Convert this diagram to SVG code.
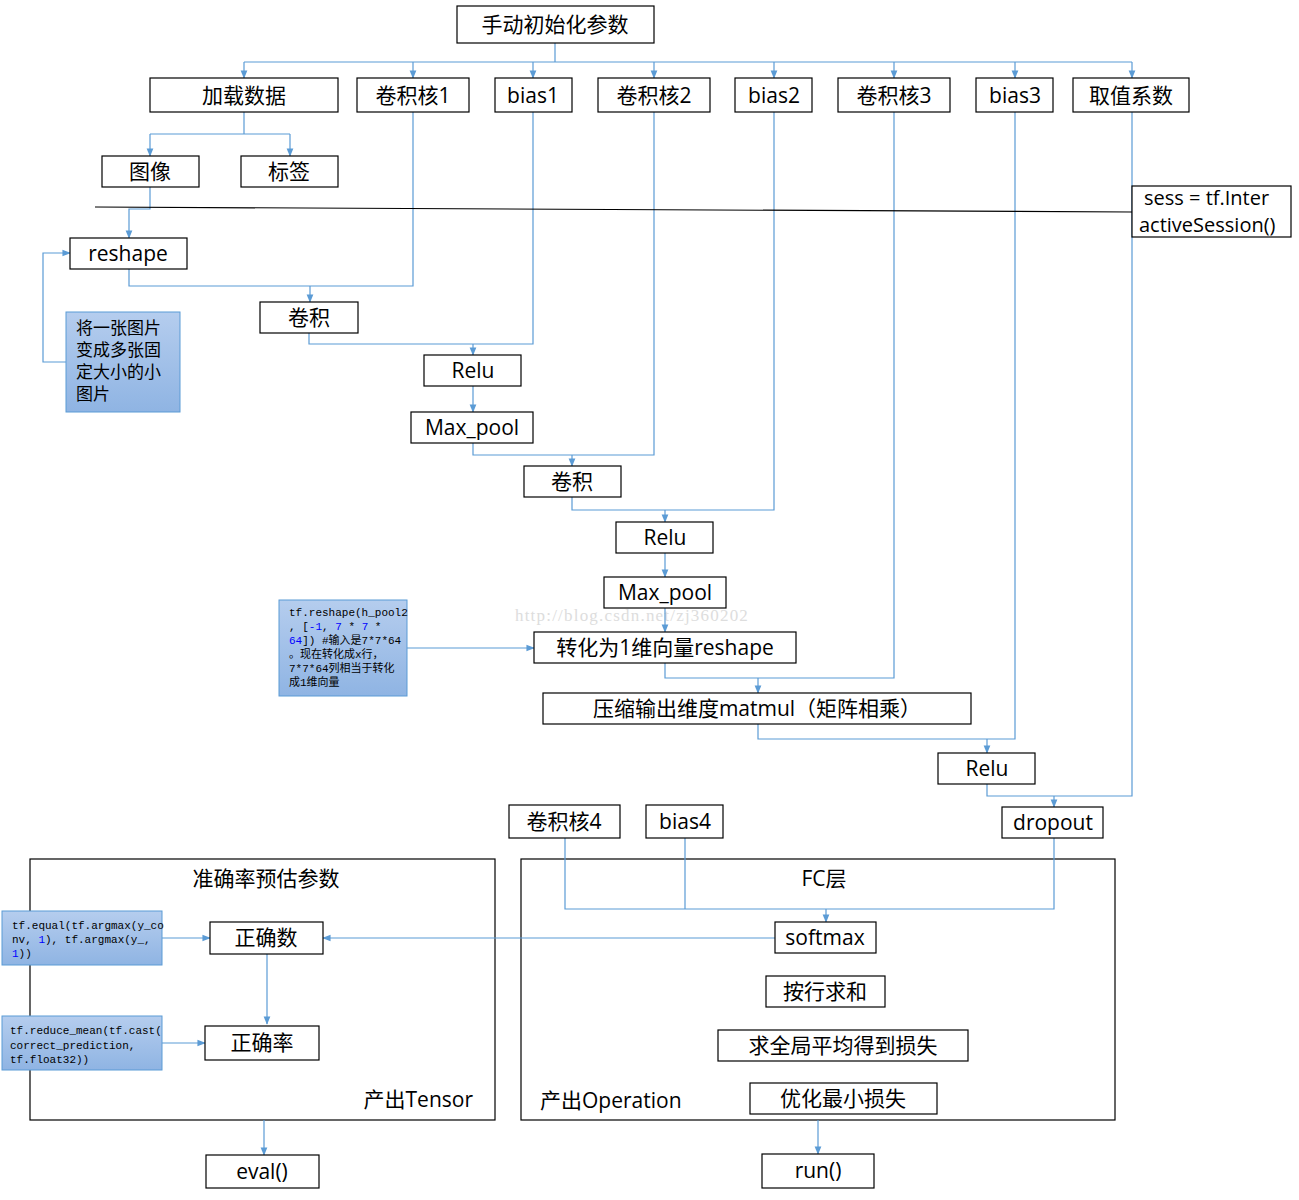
<svg xmlns="http://www.w3.org/2000/svg" width="1299" height="1200" viewBox="0 0 1299 1200">
<defs>
<marker id="a" viewBox="0 0 10 10" refX="9" refY="5" markerWidth="7" markerHeight="7" orient="auto-start-reverse"><path d="M0,1 L10,5 L0,9 z" fill="#5b9bd5"/></marker>
<linearGradient id="g" x1="0" y1="0" x2="0" y2="1"><stop offset="0" stop-color="#b5cdee"/><stop offset="1" stop-color="#8fb4e3"/></linearGradient>
<style>
.b{fill:#fff;stroke:#000;stroke-width:1.2}
.n{fill:url(#g);stroke:#5b9bd5;stroke-width:1}
.t{font-family:"Open Sans","Noto Sans CJK SC",sans-serif;font-size:21px;text-anchor:middle;fill:#000}
.s{font-family:"Liberation Mono","Noto Sans CJK SC",monospace;font-size:11px;fill:#000}
.m{font-family:"Liberation Sans","Noto Sans CJK SC",sans-serif;font-size:17px;fill:#000}
.c path,.c line{fill:none;stroke:#5b9bd5;stroke-width:1.2}
.ar{marker-end:url(#a)}
</style>
</defs>
<rect width="1299" height="1200" fill="#fff"/>
<text x="515" y="621" style="font-family:'Liberation Serif',serif;font-size:17px;letter-spacing:1.2px;fill:#ddd">http://blog.csdn.net/zj360202</text>
<g id="containers">
<rect class="b" x="30" y="859" width="465" height="261"/>
<text class="t" x="266" y="886">准确率预估参数</text>
<text class="t" x="473" y="1107" style="text-anchor:end">产出Tensor</text>
<rect class="b" x="521" y="859" width="594" height="261"/>
<text class="t" x="824" y="886">FC层</text>
<text class="t" x="540" y="1108" style="text-anchor:start">产出Operation</text>
</g>
<g class="c" id="connectors">
<path d="M555,43 V62 M244,62 H1132"/>
<path class="ar" d="M244,62 V78"/><path class="ar" d="M413,62 V78"/><path class="ar" d="M533,62 V78"/><path class="ar" d="M654,62 V78"/><path class="ar" d="M774,62 V78"/><path class="ar" d="M894,62 V78"/><path class="ar" d="M1015,62 V78"/><path class="ar" d="M1132,62 V78"/>
<path d="M244,112 V134 M150,134 H290"/>
<path class="ar" d="M150,134 V156"/><path class="ar" d="M290,134 V156"/>
<path class="ar" d="M150,187 V209 H129 V238"/>
<path d="M129,269 V286 H413 V112"/><path class="ar" d="M310,286 V302"/>
<path class="ar" d="M66,362 H43 V253 H70"/>
<path d="M309,333 V344 H533 V112"/><path class="ar" d="M473,344 V355"/>
<path class="ar" d="M473,386 V412"/>
<path d="M473,443 V455 H654 V112"/><path class="ar" d="M572,455 V466"/>
<path d="M572,497 V510 H774 V112"/><path class="ar" d="M665,510 V522"/>
<path class="ar" d="M665,553 V577"/>
<path class="ar" d="M665,608 V632"/>
<path class="ar" d="M407,648 H534"/>
<path d="M665,663 V678 H894 V112"/><path class="ar" d="M758,678 V693"/>
<path d="M758,724 V739 H1015 V112"/><path class="ar" d="M987,739 V753"/>
<path d="M987,784 V796 H1132 V112"/><path class="ar" d="M1054,796 V807"/>
<path d="M565,838 V909 H1054 V838 M685,838 V909"/><path class="ar" d="M826,909 V922"/>
<path class="ar" d="M775,938 H323"/>
<path class="ar" d="M162,938 H210"/>
<path class="ar" d="M267,954 V1024"/>
<path class="ar" d="M162,1043 H205"/>
<path class="ar" d="M264,1120 V1155"/>
<path class="ar" d="M818,1120 V1154"/>
</g>
<line x1="95" y1="207" x2="1132" y2="212" stroke="#000" stroke-width="1.2"/>
<g id="init"><rect class="b" x="457" y="6" width="197" height="37"/><text class="t" x="555" y="32">手动初始化参数</text></g>
<g id="load"><rect class="b" x="150" y="78" width="188" height="34"/><text class="t" x="244" y="103">加载数据</text></g>
<g id="k1"><rect class="b" x="357" y="78" width="112" height="34"/><text class="t" x="413" y="103">卷积核1</text></g>
<g id="b1"><rect class="b" x="495" y="78" width="77" height="34"/><text class="t" x="533" y="103">bias1</text></g>
<g id="k2"><rect class="b" x="598" y="78" width="112" height="34"/><text class="t" x="654" y="103">卷积核2</text></g>
<g id="b2"><rect class="b" x="735" y="78" width="77" height="34"/><text class="t" x="774" y="103">bias2</text></g>
<g id="k3"><rect class="b" x="838" y="78" width="112" height="34"/><text class="t" x="894" y="103">卷积核3</text></g>
<g id="b3"><rect class="b" x="976" y="78" width="77" height="34"/><text class="t" x="1015" y="103">bias3</text></g>
<g id="coef"><rect class="b" x="1073" y="78" width="116" height="34"/><text class="t" x="1131" y="103">取值系数</text></g>
<g id="img"><rect class="b" x="102" y="156" width="97" height="31"/><text class="t" x="150" y="179">图像</text></g>
<g id="lbl"><rect class="b" x="241" y="156" width="97" height="31"/><text class="t" x="289" y="179">标签</text></g>
<g id="sess"><rect class="b" x="1132" y="186" width="159" height="51"/><text class="t" x="1144" y="205" style="text-anchor:start;font-size:20px">sess = tf.Inter</text><text class="t" x="1139" y="232" style="text-anchor:start;font-size:20px">activeSession()</text></g>
<g id="reshape"><rect class="b" x="70" y="238" width="117" height="31"/><text class="t" x="128" y="261">reshape</text></g>
<g id="note1"><rect class="n" x="66" y="312" width="114" height="100"/><text class="m" x="76" y="334">将一张图片</text><text class="m" x="76" y="356">变成多张固</text><text class="m" x="76" y="378">定大小的小</text><text class="m" x="76" y="400">图片</text></g>
<g id="conv1"><rect class="b" x="260" y="302" width="98" height="31"/><text class="t" x="309" y="325">卷积</text></g>
<g id="relu1"><rect class="b" x="424" y="355" width="97" height="31"/><text class="t" x="473" y="378">Relu</text></g>
<g id="pool1"><rect class="b" x="411" y="412" width="122" height="31"/><text class="t" x="472" y="435">Max_pool</text></g>
<g id="conv2"><rect class="b" x="524" y="466" width="97" height="31"/><text class="t" x="572" y="489">卷积</text></g>
<g id="relu2"><rect class="b" x="616" y="522" width="97" height="31"/><text class="t" x="665" y="545">Relu</text></g>
<g id="pool2"><rect class="b" x="604" y="577" width="122" height="31"/><text class="t" x="665" y="600">Max_pool</text></g>
<g id="flat"><rect class="b" x="534" y="632" width="262" height="31"/><text class="t" x="665" y="655">转化为1维向量reshape</text></g>
<g id="note2"><rect class="n" x="279" y="600" width="128" height="96"/>
<text class="s" x="289" y="616">tf.reshape(h_pool2</text>
<text class="s" x="289" y="630">, [<tspan fill="#00f">-1</tspan>, <tspan fill="#00f">7</tspan> * <tspan fill="#00f">7</tspan> *</text>
<text class="s" x="289" y="644"><tspan fill="#00f">64</tspan>]) #输入是7*7*64</text>
<text class="s" x="289" y="658">。现在转化成x行，</text>
<text class="s" x="289" y="672">7*7*64列相当于转化</text>
<text class="s" x="289" y="686">成1维向量</text></g>
<g id="mm"><rect class="b" x="543" y="693" width="428" height="31"/><text class="t" x="757" y="716">压缩输出维度matmul（矩阵相乘）</text></g>
<g id="relu3"><rect class="b" x="938" y="753" width="97" height="31"/><text class="t" x="987" y="776">Relu</text></g>
<g id="drop"><rect class="b" x="1002" y="807" width="101" height="31"/><text class="t" x="1053" y="830">dropout</text></g>
<g id="k4"><rect class="b" x="509" y="805" width="111" height="33"/><text class="t" x="564" y="829">卷积核4</text></g>
<g id="b4"><rect class="b" x="646" y="805" width="77" height="33"/><text class="t" x="685" y="829">bias4</text></g>
<g id="softmax"><rect class="b" x="775" y="922" width="101" height="31"/><text class="t" x="825" y="945">softmax</text></g>
<g id="rowsum"><rect class="b" x="766" y="976" width="119" height="31"/><text class="t" x="825" y="999">按行求和</text></g>
<g id="mean"><rect class="b" x="718" y="1030" width="250" height="31"/><text class="t" x="843" y="1053">求全局平均得到损失</text></g>
<g id="opt"><rect class="b" x="750" y="1083" width="187" height="31"/><text class="t" x="843" y="1106">优化最小损失</text></g>
<g id="correct"><rect class="b" x="210" y="922" width="113" height="32"/><text class="t" x="266" y="945">正确数</text></g>
<g id="acc"><rect class="b" x="205" y="1026" width="114" height="34"/><text class="t" x="262" y="1050">正确率</text></g>
<g id="note3"><rect class="n" x="2" y="911" width="160" height="54"/>
<text class="s" x="12" y="929">tf.equal(tf.argmax(y_co</text>
<text class="s" x="12" y="943">nv, <tspan fill="#00f">1</tspan>), tf.argmax(y_,</text>
<text class="s" x="12" y="957"><tspan fill="#00f">1</tspan>))</text></g>
<g id="note4"><rect class="n" x="2" y="1016" width="160" height="54"/>
<text class="s" x="10" y="1034">tf.reduce_mean(tf.cast(</text>
<text class="s" x="10" y="1049">correct_prediction,</text>
<text class="s" x="10" y="1063">tf.float32))</text></g>
<g id="eval"><rect class="b" x="206" y="1155" width="113" height="33"/><text class="t" x="262" y="1179">eval()</text></g>
<g id="run"><rect class="b" x="762" y="1154" width="112" height="34"/><text class="t" x="818" y="1178">run()</text></g>
</svg>
